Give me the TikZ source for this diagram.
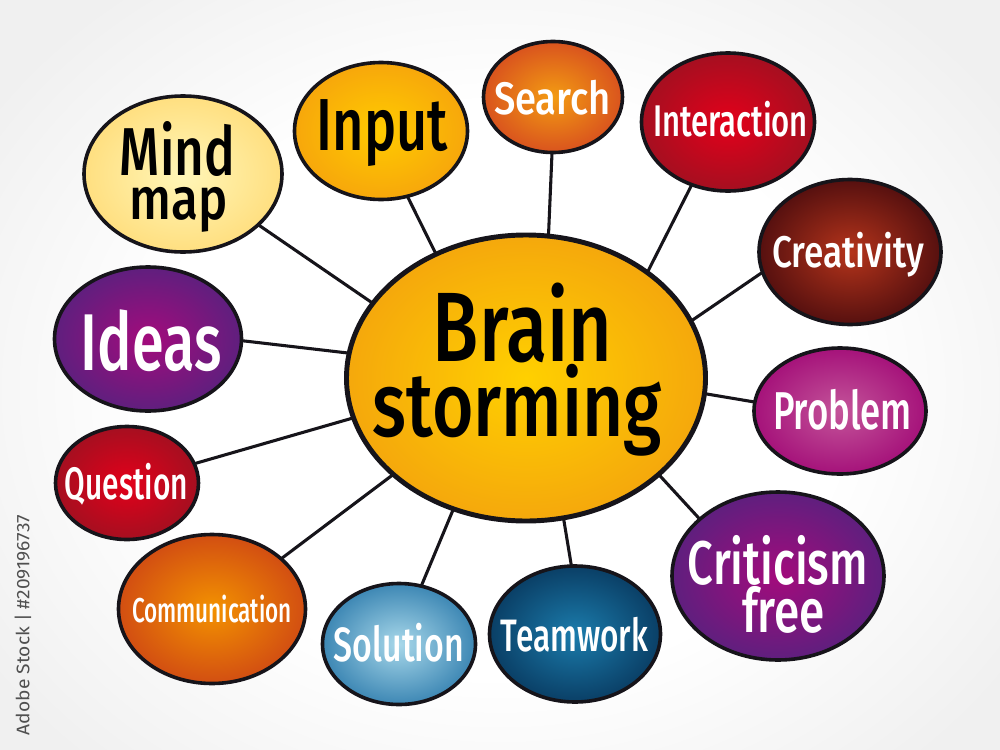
\documentclass[tikz,border=0pt]{standalone}
\usepackage{graphicx}
\usepackage{fontspec}
\setmainfont{Fira Sans}[BoldFont={Fira Sans Medium}]
\usetikzlibrary{shapes.geometric}
\newlength\pxu \setlength\pxu{0.75pt}
\newsavebox\inkbox
\newcommand\ink[5]{%
  \sbox\inkbox{\resizebox*{#3\pxu}{#4\pxu}{\bfseries #5}}%
  \smash{\makebox[0pt][c]{\kern\dimexpr 2\dimexpr#1\pxu\relax\relax
    \raisebox{\dimexpr 0pt-(#2\pxu)-(\ht\inkbox+\dp\inkbox)/2+\dp\inkbox\relax}{\usebox\inkbox}}}}
\pgfdeclareradialshading{paper}{\pgfpointorigin}{rgb(0bp)=(1,1,1);rgb(14bp)=(1,1,1);rgb(25bp)=(0.94,0.94,0.94);rgb(50bp)=(0.94,0.94,0.94)}
\tikzset{
  blob/.style={ellipse,draw=outl,line width=2.7pt,inner sep=0pt,outer sep=0pt,text=white},
  hub/.style={blob,line width=3.7pt,text=black},
  link/.style={draw=outl,line width=2.3pt},
  caption/.style={text=capt,rotate=90,inner sep=0pt}
}
\definecolor{outl}{HTML}{16141A}
\definecolor{capt}{HTML}{505050}
\begin{document}
\begin{tikzpicture}[x=0.75pt,y=-0.75pt]
\useasboundingbox (0,0) rectangle (1000,750);
\shade[shading=paper] (-120,-120) rectangle (1120,900);
\newcommand\bl[8]{\node[blob,minimum width=#4*0.75pt,minimum height=#5*0.75pt,inner color=#6,outer color=#7] (#1) at (#2,#3) {#8};}
\definecolor{c1}{HTML}{FFD000}\definecolor{c2}{HTML}{F5A80C}
\node[hub,minimum width=269.25pt,minimum height=214.5pt,inner color=c1,outer color=c2] (hub) at (526,378)
  {\ink{-3.5}{-55}{179}{80}{Brain}\ink{-8.5}{32}{289}{92}{storming}};
\definecolor{a1}{HTML}{FFF6B8}\definecolor{a2}{HTML}{FFDF80}
\node[blob,text=black,minimum width=148.5pt,minimum height=117pt,inner color=a1,outer color=a2] (mind) at (183,174)
  {\ink{-5.5}{-24.5}{115}{55}{Mind}\ink{-4}{35.5}{98}{45}{map}};
\definecolor{b1}{HTML}{FFCB00}\definecolor{b2}{HTML}{F7A70B}
\node[blob,text=black,minimum width=129.75pt,minimum height=102.75pt,inner color=b1,outer color=b2] (input) at (381,131)
  {\ink{1.5}{2.5}{131}{67}{Input}};
\definecolor{s1}{HTML}{F39C12}\definecolor{s2}{HTML}{D9531E}
\bl{search}{553}{97}{139}{111}{s1}{s2}{\ink{-0.5}{0.5}{117}{35}{Search}}
\definecolor{r1}{HTML}{E3001A}\definecolor{r2}{HTML}{A50F20}
\bl{inter}{728}{122}{173}{138}{r1}{r2}{\ink{2.5}{-3}{155}{36}{Interaction}}
\definecolor{d1}{HTML}{B5341B}\definecolor{d2}{HTML}{56100F}
\bl{creat}{850}{252}{182}{145}{d1}{d2}{\ink{-2}{2.5}{152}{45}{Creativity}}
\definecolor{p1}{HTML}{C4559A}\definecolor{p2}{HTML}{A5127A}
\bl{prob}{840}{411}{172}{126}{p1}{p2}{\ink{2.5}{-1.5}{139}{41}{Problem}}
\definecolor{v1}{HTML}{A30B7C}\definecolor{v2}{HTML}{5F1F7E}
\bl{crit}{778}{576}{212}{168}{v1}{v2}{\ink{0}{-16}{180}{50}{Criticism}\ink{5.5}{33.5}{83}{47}{free}}
\definecolor{t1}{HTML}{1B7CAC}\definecolor{t2}{HTML}{0A3F66}
\bl{team}{575}{634}{171}{136}{t1}{t2}{\ink{-0.5}{0.5}{147}{35}{Teamwork}}
\definecolor{u1}{HTML}{A8D8EA}\definecolor{u2}{HTML}{3D87B4}
\bl{sol}{399}{644}{153}{121}{u1}{u2}{\ink{0}{-1.5}{130}{39}{Solution}}
\definecolor{o1}{HTML}{F39200}\definecolor{o2}{HTML}{D24E12}
\bl{comm}{212}{609}{187}{149}{o1}{o2}{\ink{0}{0}{160}{28}{Communication}}
\bl{ques}{127}{483}{143}{113}{r1}{r2}{\ink{-0.5}{1}{123}{42}{Question}}
\bl{ideas}{148}{339}{187}{144}{v1}{v2}{\ink{3.5}{2}{141}{62}{Ideas}}
\node[caption] (stock) at (23,625) {\resizebox{165pt}{11pt}{Adobe Stock | \#209196737}};
\draw[link] (mind.-34.7) -- (hub.154.7);
\draw[link] (input.-68.2) -- (hub.126.7);
\draw[link] (search.-91) -- (hub.81.7);
\draw[link] (inter.-120.3) -- (hub.41.5);
\draw[link] (creat.-167.3) -- (hub.19.7);
\draw[link] (prob.174) -- (hub.-5.1);
\draw[link] (crit.144) -- (hub.-36.9);
\draw[link] (team.93.4) -- (hub.-75.7);
\draw[link] (sol.69.9) -- (hub.-119.8);
\draw[link] (comm.36) -- (hub.-144.7);
\draw[link] (ques.16.7) -- (hub.-167);
\draw[link] (ideas.-1.8) -- (hub.172.4);
\end{tikzpicture}
\end{document}
